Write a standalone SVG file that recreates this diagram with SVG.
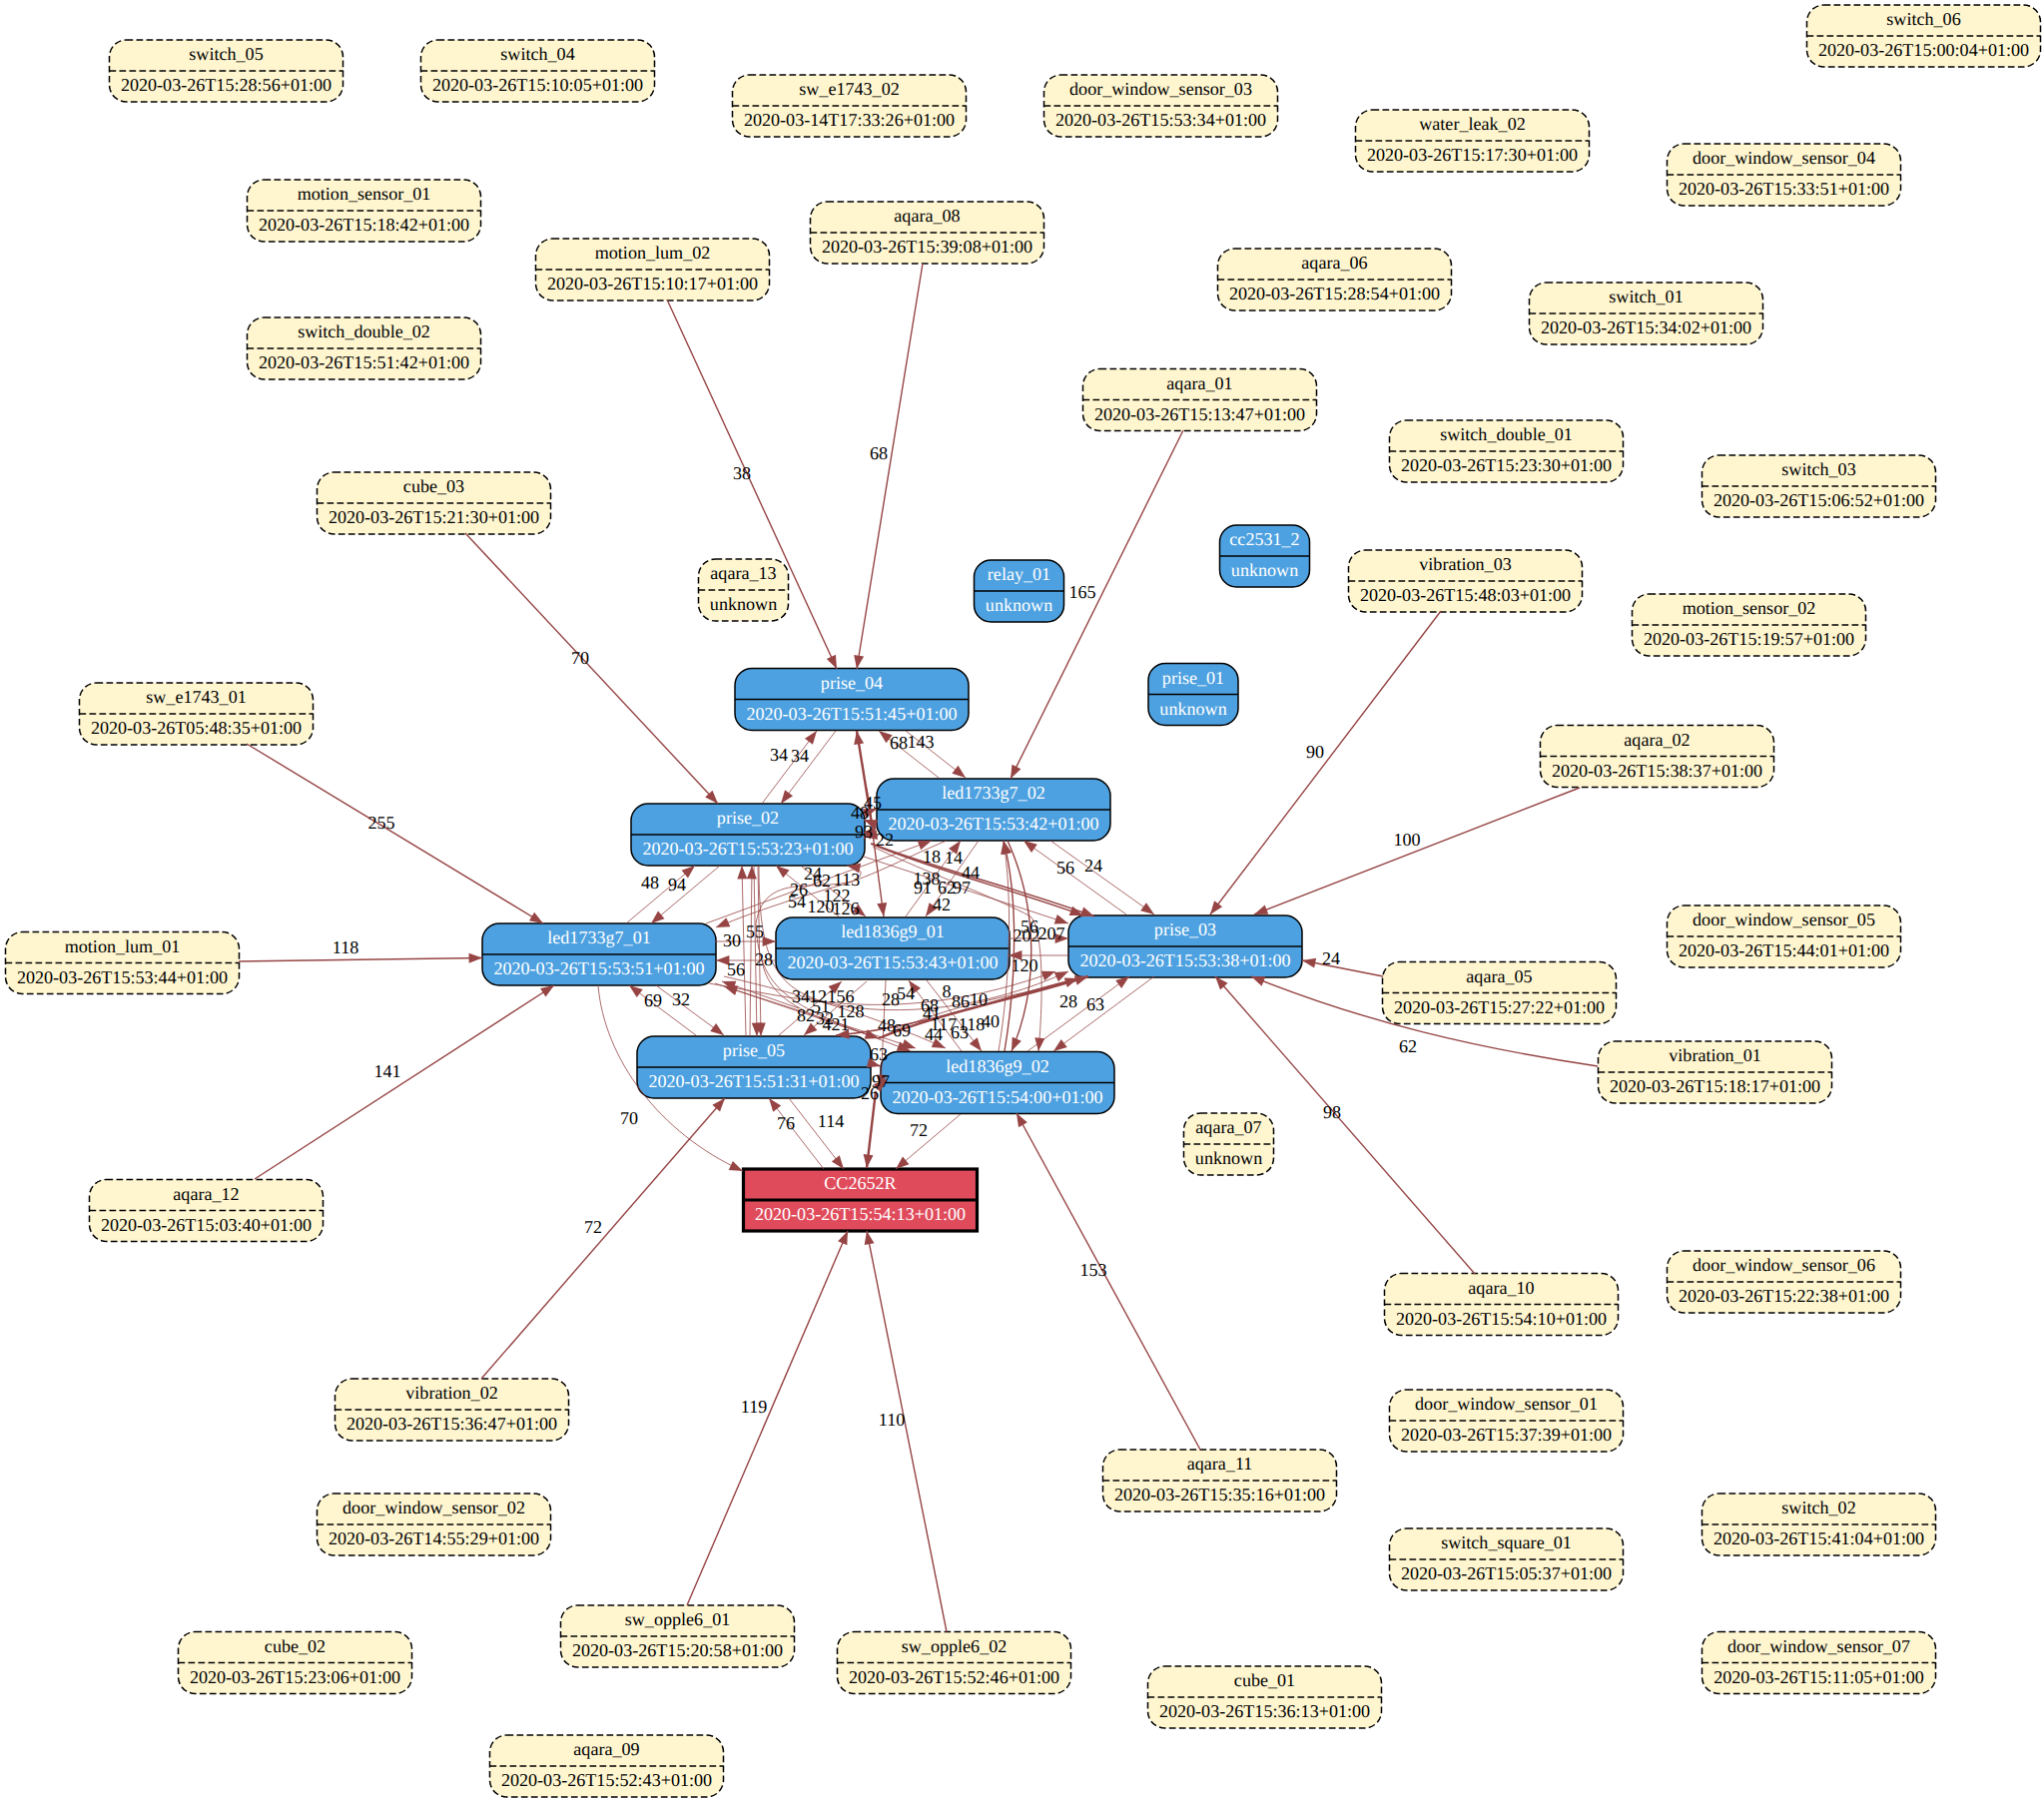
<svg xmlns="http://www.w3.org/2000/svg" width="2047" height="1807" viewBox="0 0 2047 1807">
<style>
text{font-family:"Liberation Serif","Times New Roman",serif;font-size:18.1px;text-anchor:middle;fill:#000;text-rendering:geometricPrecision}
.n text{transform:translateY(-1px)}
.n rect{stroke:#000;stroke-width:1.5;rx:17px;ry:17px}
.n line{stroke:#000;stroke-width:1.5}
.y rect{fill:#fff6d0;stroke-dasharray:6.7 3.3}
.y line{stroke-dasharray:6.7 3.3}
.b rect{fill:#4ea1e0}
.b text,.c text{fill:#fff}
.c rect{fill:#e04b5c;stroke-width:3.2;rx:0;ry:0}
.c line{stroke-width:3.2}
#edges path{fill:none;stroke:#964444;marker-end:url(#a)}
.t{stroke-width:.8}
.m{stroke-width:1.4}
.k{stroke-width:2.4}
</style>
<defs>
<marker id="a" markerUnits="userSpaceOnUse" markerWidth="16" markerHeight="12" viewBox="0 -6 14 12" refX="13.4" refY="0" orient="auto"><path d="M0,-5 L13.4,0 L0,5z" fill="#964444"/></marker>
</defs>
<rect width="2047" height="1807" fill="#fff"/>
<g id="nodes" transform="translate(.5,0)">
<g id="switch_05" class="n y" transform="translate(226,40)"><rect x="-117" width="234" height="62"/><line x1="-117" x2="117" y1="31" y2="31"/><text y="21">switch_05</text><text y="52">2020-03-26T15:28:56+01:00</text></g>
<g id="switch_04" class="n y" transform="translate(538,40)"><rect x="-117" width="234" height="62"/><line x1="-117" x2="117" y1="31" y2="31"/><text y="21">switch_04</text><text y="52">2020-03-26T15:10:05+01:00</text></g>
<g id="sw_e1743_02" class="n y" transform="translate(850,75)"><rect x="-117" width="234" height="62"/><line x1="-117" x2="117" y1="31" y2="31"/><text y="21">sw_e1743_02</text><text y="52">2020-03-14T17:33:26+01:00</text></g>
<g id="door_window_sensor_03" class="n y" transform="translate(1162,75)"><rect x="-117" width="234" height="62"/><line x1="-117" x2="117" y1="31" y2="31"/><text y="21">door_window_sensor_03</text><text y="52">2020-03-26T15:53:34+01:00</text></g>
<g id="water_leak_02" class="n y" transform="translate(1474,110)"><rect x="-117" width="234" height="62"/><line x1="-117" x2="117" y1="31" y2="31"/><text y="21">water_leak_02</text><text y="52">2020-03-26T15:17:30+01:00</text></g>
<g id="switch_06" class="n y" transform="translate(1926,5)"><rect x="-117" width="234" height="62"/><line x1="-117" x2="117" y1="31" y2="31"/><text y="21">switch_06</text><text y="52">2020-03-26T15:00:04+01:00</text></g>
<g id="door_window_sensor_04" class="n y" transform="translate(1786,144)"><rect x="-117" width="234" height="62"/><line x1="-117" x2="117" y1="31" y2="31"/><text y="21">door_window_sensor_04</text><text y="52">2020-03-26T15:33:51+01:00</text></g>
<g id="motion_sensor_01" class="n y" transform="translate(364,180)"><rect x="-117" width="234" height="62"/><line x1="-117" x2="117" y1="31" y2="31"/><text y="21">motion_sensor_01</text><text y="52">2020-03-26T15:18:42+01:00</text></g>
<g id="aqara_08" class="n y" transform="translate(928,202)"><rect x="-117" width="234" height="62"/><line x1="-117" x2="117" y1="31" y2="31"/><text y="21">aqara_08</text><text y="52">2020-03-26T15:39:08+01:00</text></g>
<g id="motion_lum_02" class="n y" transform="translate(653,239)"><rect x="-117" width="234" height="62"/><line x1="-117" x2="117" y1="31" y2="31"/><text y="21">motion_lum_02</text><text y="52">2020-03-26T15:10:17+01:00</text></g>
<g id="aqara_06" class="n y" transform="translate(1336,249)"><rect x="-117" width="234" height="62"/><line x1="-117" x2="117" y1="31" y2="31"/><text y="21">aqara_06</text><text y="52">2020-03-26T15:28:54+01:00</text></g>
<g id="switch_01" class="n y" transform="translate(1648,283)"><rect x="-117" width="234" height="62"/><line x1="-117" x2="117" y1="31" y2="31"/><text y="21">switch_01</text><text y="52">2020-03-26T15:34:02+01:00</text></g>
<g id="switch_double_02" class="n y" transform="translate(364,318)"><rect x="-117" width="234" height="62"/><line x1="-117" x2="117" y1="31" y2="31"/><text y="21">switch_double_02</text><text y="52">2020-03-26T15:51:42+01:00</text></g>
<g id="aqara_01" class="n y" transform="translate(1201,369.500)"><rect x="-117" width="234" height="62"/><line x1="-117" x2="117" y1="31" y2="31"/><text y="21">aqara_01</text><text y="52">2020-03-26T15:13:47+01:00</text></g>
<g id="switch_double_01" class="n y" transform="translate(1508,421)"><rect x="-117" width="234" height="62"/><line x1="-117" x2="117" y1="31" y2="31"/><text y="21">switch_double_01</text><text y="52">2020-03-26T15:23:30+01:00</text></g>
<g id="switch_03" class="n y" transform="translate(1821,456)"><rect x="-117" width="234" height="62"/><line x1="-117" x2="117" y1="31" y2="31"/><text y="21">switch_03</text><text y="52">2020-03-26T15:06:52+01:00</text></g>
<g id="cube_03" class="n y" transform="translate(434,473)"><rect x="-117" width="234" height="62"/><line x1="-117" x2="117" y1="31" y2="31"/><text y="21">cube_03</text><text y="52">2020-03-26T15:21:30+01:00</text></g>
<g id="vibration_03" class="n y" transform="translate(1467,551)"><rect x="-117" width="234" height="62"/><line x1="-117" x2="117" y1="31" y2="31"/><text y="21">vibration_03</text><text y="52">2020-03-26T15:48:03+01:00</text></g>
<g id="motion_sensor_02" class="n y" transform="translate(1751,595)"><rect x="-117" width="234" height="62"/><line x1="-117" x2="117" y1="31" y2="31"/><text y="21">motion_sensor_02</text><text y="52">2020-03-26T15:19:57+01:00</text></g>
<g id="sw_e1743_01" class="n y" transform="translate(196,684)"><rect x="-117" width="234" height="62"/><line x1="-117" x2="117" y1="31" y2="31"/><text y="21">sw_e1743_01</text><text y="52">2020-03-26T05:48:35+01:00</text></g>
<g id="aqara_02" class="n y" transform="translate(1659,726.500)"><rect x="-117" width="234" height="62"/><line x1="-117" x2="117" y1="31" y2="31"/><text y="21">aqara_02</text><text y="52">2020-03-26T15:38:37+01:00</text></g>
<g id="door_window_sensor_05" class="n y" transform="translate(1786,907)"><rect x="-117" width="234" height="62"/><line x1="-117" x2="117" y1="31" y2="31"/><text y="21">door_window_sensor_05</text><text y="52">2020-03-26T15:44:01+01:00</text></g>
<g id="motion_lum_01" class="n y" transform="translate(122,933.500)"><rect x="-117" width="234" height="62"/><line x1="-117" x2="117" y1="31" y2="31"/><text y="21">motion_lum_01</text><text y="52">2020-03-26T15:53:44+01:00</text></g>
<g id="aqara_05" class="n y" transform="translate(1501,963.500)"><rect x="-117" width="234" height="62"/><line x1="-117" x2="117" y1="31" y2="31"/><text y="21">aqara_05</text><text y="52">2020-03-26T15:27:22+01:00</text></g>
<g id="vibration_01" class="n y" transform="translate(1717,1043)"><rect x="-117" width="234" height="62"/><line x1="-117" x2="117" y1="31" y2="31"/><text y="21">vibration_01</text><text y="52">2020-03-26T15:18:17+01:00</text></g>
<g id="aqara_12" class="n y" transform="translate(206,1181.500)"><rect x="-117" width="234" height="62"/><line x1="-117" x2="117" y1="31" y2="31"/><text y="21">aqara_12</text><text y="52">2020-03-26T15:03:40+01:00</text></g>
<g id="aqara_10" class="n y" transform="translate(1503,1275.500)"><rect x="-117" width="234" height="62"/><line x1="-117" x2="117" y1="31" y2="31"/><text y="21">aqara_10</text><text y="52">2020-03-26T15:54:10+01:00</text></g>
<g id="door_window_sensor_06" class="n y" transform="translate(1786,1253)"><rect x="-117" width="234" height="62"/><line x1="-117" x2="117" y1="31" y2="31"/><text y="21">door_window_sensor_06</text><text y="52">2020-03-26T15:22:38+01:00</text></g>
<g id="vibration_02" class="n y" transform="translate(452,1381)"><rect x="-117" width="234" height="62"/><line x1="-117" x2="117" y1="31" y2="31"/><text y="21">vibration_02</text><text y="52">2020-03-26T15:36:47+01:00</text></g>
<g id="door_window_sensor_01" class="n y" transform="translate(1508,1392)"><rect x="-117" width="234" height="62"/><line x1="-117" x2="117" y1="31" y2="31"/><text y="21">door_window_sensor_01</text><text y="52">2020-03-26T15:37:39+01:00</text></g>
<g id="aqara_11" class="n y" transform="translate(1221,1452)"><rect x="-117" width="234" height="62"/><line x1="-117" x2="117" y1="31" y2="31"/><text y="21">aqara_11</text><text y="52">2020-03-26T15:35:16+01:00</text></g>
<g id="door_window_sensor_02" class="n y" transform="translate(434,1496)"><rect x="-117" width="234" height="62"/><line x1="-117" x2="117" y1="31" y2="31"/><text y="21">door_window_sensor_02</text><text y="52">2020-03-26T14:55:29+01:00</text></g>
<g id="switch_02" class="n y" transform="translate(1821,1496)"><rect x="-117" width="234" height="62"/><line x1="-117" x2="117" y1="31" y2="31"/><text y="21">switch_02</text><text y="52">2020-03-26T15:41:04+01:00</text></g>
<g id="switch_square_01" class="n y" transform="translate(1508,1531)"><rect x="-117" width="234" height="62"/><line x1="-117" x2="117" y1="31" y2="31"/><text y="21">switch_square_01</text><text y="52">2020-03-26T15:05:37+01:00</text></g>
<g id="sw_opple6_01" class="n y" transform="translate(678,1608)"><rect x="-117" width="234" height="62"/><line x1="-117" x2="117" y1="31" y2="31"/><text y="21">sw_opple6_01</text><text y="52">2020-03-26T15:20:58+01:00</text></g>
<g id="cube_02" class="n y" transform="translate(295,1634.500)"><rect x="-117" width="234" height="62"/><line x1="-117" x2="117" y1="31" y2="31"/><text y="21">cube_02</text><text y="52">2020-03-26T15:23:06+01:00</text></g>
<g id="sw_opple6_02" class="n y" transform="translate(955,1634.500)"><rect x="-117" width="234" height="62"/><line x1="-117" x2="117" y1="31" y2="31"/><text y="21">sw_opple6_02</text><text y="52">2020-03-26T15:52:46+01:00</text></g>
<g id="door_window_sensor_07" class="n y" transform="translate(1821,1634.500)"><rect x="-117" width="234" height="62"/><line x1="-117" x2="117" y1="31" y2="31"/><text y="21">door_window_sensor_07</text><text y="52">2020-03-26T15:11:05+01:00</text></g>
<g id="cube_01" class="n y" transform="translate(1266,1669)"><rect x="-117" width="234" height="62"/><line x1="-117" x2="117" y1="31" y2="31"/><text y="21">cube_01</text><text y="52">2020-03-26T15:36:13+01:00</text></g>
<g id="aqara_09" class="n y" transform="translate(607,1738)"><rect x="-117" width="234" height="62"/><line x1="-117" x2="117" y1="31" y2="31"/><text y="21">aqara_09</text><text y="52">2020-03-26T15:52:43+01:00</text></g>
<g id="aqara_13" class="n y" transform="translate(744,560)"><rect x="-45" width="90" height="62"/><line x1="-45" x2="45" y1="31" y2="31"/><text y="21">aqara_13</text><text y="52">unknown</text></g>
<g id="aqara_07" class="n y" transform="translate(1230,1115)"><rect x="-45" width="90" height="62"/><line x1="-45" x2="45" y1="31" y2="31"/><text y="21">aqara_07</text><text y="52">unknown</text></g>
<g id="relay_01" class="n b" transform="translate(1020,561)"><rect x="-45" width="90" height="62"/><line x1="-45" x2="45" y1="31" y2="31"/><text y="21">relay_01</text><text y="52">unknown</text></g>
<g id="cc2531_2" class="n b" transform="translate(1266,526)"><rect x="-45" width="90" height="62"/><line x1="-45" x2="45" y1="31" y2="31"/><text y="21">cc2531_2</text><text y="52">unknown</text></g>
<g id="prise_01" class="n b" transform="translate(1194.500,664.500)"><rect x="-45" width="90" height="62"/><line x1="-45" x2="45" y1="31" y2="31"/><text y="21">prise_01</text><text y="52">unknown</text></g>
<g id="prise_04" class="n b" transform="translate(852.500,669.500)"><rect x="-117" width="234" height="62"/><line x1="-117" x2="117" y1="31" y2="31"/><text y="21">prise_04</text><text y="52">2020-03-26T15:51:45+01:00</text></g>
<g id="prise_02" class="n b" transform="translate(748.500,805)"><rect x="-117" width="234" height="62"/><line x1="-117" x2="117" y1="31" y2="31"/><text y="21">prise_02</text><text y="52">2020-03-26T15:53:23+01:00</text></g>
<g id="led1733g7_02" class="n b" transform="translate(994.500,780)"><rect x="-117" width="234" height="62"/><line x1="-117" x2="117" y1="31" y2="31"/><text y="21">led1733g7_02</text><text y="52">2020-03-26T15:53:42+01:00</text></g>
<g id="led1836g9_01" class="n b" transform="translate(893.500,919)"><rect x="-117" width="234" height="62"/><line x1="-117" x2="117" y1="31" y2="31"/><text y="21">led1836g9_01</text><text y="52">2020-03-26T15:53:43+01:00</text></g>
<g id="led1733g7_01" class="n b" transform="translate(599.500,925)"><rect x="-117" width="234" height="62"/><line x1="-117" x2="117" y1="31" y2="31"/><text y="21">led1733g7_01</text><text y="52">2020-03-26T15:53:51+01:00</text></g>
<g id="prise_03" class="n b" transform="translate(1186.500,917)"><rect x="-117" width="234" height="62"/><line x1="-117" x2="117" y1="31" y2="31"/><text y="21">prise_03</text><text y="52">2020-03-26T15:53:38+01:00</text></g>
<g id="prise_05" class="n b" transform="translate(754.500,1038)"><rect x="-117" width="234" height="62"/><line x1="-117" x2="117" y1="31" y2="31"/><text y="21">prise_05</text><text y="52">2020-03-26T15:51:31+01:00</text></g>
<g id="led1836g9_02" class="n b" transform="translate(998.500,1053.500)"><rect x="-117" width="234" height="62"/><line x1="-117" x2="117" y1="31" y2="31"/><text y="21">led1836g9_02</text><text y="52">2020-03-26T15:54:00+01:00</text></g>
<g id="CC2652R" class="n c" transform="translate(861,1171)"><rect x="-117" width="234" height="62"/><line x1="-117" x2="117" y1="31" y2="31"/><text y="21">CC2652R</text><text y="52">2020-03-26T15:54:13+01:00</text></g>
</g>
<g id="edges">
<path class="m" d="M668,300L838,670"/>
<path class="m" d="M924,264L858,670"/>
<path class="m" d="M1185,431L1012,780"/>
<path class="m" d="M466,534L719,805"/>
<path class="m" d="M247,745L544,925"/>
<path class="m" d="M239,963L483,959.500"/>
<path class="m" d="M255,1181L555,987"/>
<path class="m" d="M1443,612L1212,916"/>
<path class="m" d="M1582,789L1256,916"/>
<path class="m" d="M1385,978L1304,962"/>
<path class="m" d="M1600,1068C1480,1050 1370,1025 1253,978"/>
<path class="m" d="M1477,1276L1217,978"/>
<path class="m" d="M1202,1452L1018,1115"/>
<path class="m" d="M482,1381L726,1100"/>
<path class="m" d="M688,1608L849,1233"/>
<path class="m" d="M948,1634.500L868,1233"/>
<path class="t" d="M763,805L818,732"/>
<path class="t" d="M837,732L782,805"/>
<path class="t" d="M940,779L880,732"/>
<path class="t" d="M907,732L967,779"/>
<path class="t" d="M627,925L696,867"/>
<path class="t" d="M721,867L652,925"/>
<path class="t" d="M697,1037L630,987"/>
<path class="t" d="M657,987L725,1037"/>
<path class="t" d="M1128,916L1025,842"/>
<path class="t" d="M1052,842L1156,916"/>
<path class="t" d="M1029,1053L1131,978"/>
<path class="t" d="M1156,978L1055,1053"/>
<path class="t" d="M825,1171L770,1100"/>
<path class="t" d="M790,1100L845,1171"/>
<path class="t" d="M962,1116L897,1171"/>
<path class="t" d="M599,987C605,1060 660,1135 744,1173"/>
<path class="k" d="M873,825L858,732"/>
<path class="m" d="M868,790L885,918"/>
<path class="k" d="M877,1093L868,1170"/>
<path class="t" d="M887,982L882,1090"/>
<path class="m" d="M865,815L878,810"/>
<path class="m" d="M878,826L865,821"/>
<path class="m" d="M865,840L878,828"/>
<path class="m" d="M878,836L865,838"/>
<path class="m" d="M871,1065L882,1068"/>
<path class="m" d="M878,1090L888,1081"/>
<path class="t" d="M716,943L777,943"/>
<path class="t" d="M777,962L717,962"/>
<path class="t" d="M747,1038L743,867"/>
<path class="t" d="M751,1038L753,867"/>
<path class="t" d="M755,867L758,1038"/>
<path class="t" d="M759,867L762,1038"/>
<path class="t" d="M840,918L777,867"/>
<path class="t" d="M803,868L867,918"/>
<path class="t" d="M757,925C762,895 780,888 810,887C840,886 860,885 862,875C863,872 858,869 848,867"/>
<path class="t" d="M707,925L933,842"/>
<path class="t" d="M948,842C900,862 870,880 830,890C790,902 750,915 717,929"/>
<path class="t" d="M907,918L962,842"/>
<path class="t" d="M980,842L927,918"/>
<path class="t" d="M1010,940L1070,940"/>
<path class="t" d="M1070,957L1010,957"/>
<path class="m" d="M1006,1053C1018,980 1020,900 1005,842"/>
<path class="t" d="M1000,1053C1012,980 1014,900 1005,842"/>
<path class="m" d="M1009,842C1040,910 1040,990 1013,1053"/>
<path class="t" d="M963,1053L910,982"/>
<path class="t" d="M928,982L983,1053"/>
<path class="t" d="M780,1037L843,983"/>
<path class="t" d="M868,983L805,1037"/>
<path class="m" d="M872,845C930,870 1020,893 1085,917"/>
<path class="m" d="M873,845C930,868 1030,893 1096,918"/>
<path class="t" d="M865,858L1070,925"/>
<path class="t" d="M874,848C930,875 1000,900 1032,918C1045,930 1045,1000 1040,1053"/>
<path class="t" d="M760,867C760,960 775,990 830,1005C900,1020 990,1010 1070,973"/>
<path class="t" d="M710,985C800,1000 900,1030 1057,973"/>
<path class="k" d="M880,1040C940,1015 1020,1000 1090,978"/>
<path class="m" d="M1080,980C1000,1000 920,1030 837,1037"/>
<path class="t" d="M880,1040C960,1000 1020,1000 1080,980"/>
<path class="t" d="M800,1010L723,983"/>
<path class="t" d="M880,1040L725,988"/>
<path class="t" d="M716,985L917,1050"/>
<path class="t" d="M725,978C820,1000 880,1020 947,1050"/>
<path class="t" d="M763,962C770,1000 800,1015 880,1040"/>
<path class="t" d="M757,925C760,1000 800,1010 912,1053"/>
</g>
<g id="edge-labels">
<text x="743" y="480">38</text><text x="880" y="460">68</text><text x="1084" y="599">165</text><text x="581" y="665">70</text><text x="382" y="830">255</text><text x="346" y="955">118</text><text x="388" y="1079">141</text><text x="1317" y="759">90</text><text x="1409" y="847">100</text><text x="1333" y="966">24</text><text x="1410" y="1054">62</text><text x="1334" y="1120">98</text><text x="1095" y="1278">153</text><text x="594" y="1235">72</text><text x="755" y="1415">119</text><text x="893" y="1428">110</text>
<text x="780" y="762">34</text><text x="801" y="763">34</text><text x="900" y="750">68</text><text x="922" y="749">143</text><text x="874" y="810">45</text><text x="861" y="820">48</text><text x="865" y="839">93</text><text x="886" y="847">22</text><text x="933" y="864">18</text><text x="955" y="865">14</text><text x="1067" y="875">56</text><text x="1095" y="873">24</text><text x="972" y="880">44</text><text x="814" y="881">24</text><text x="823" y="888">62</text><text x="848" y="887">113</text><text x="928" y="886">138</text><text x="924" y="895">91</text><text x="948" y="895">62</text><text x="963" y="895">97</text><text x="800" y="897">26</text><text x="838" y="903">122</text><text x="798" y="909">54</text><text x="822" y="914">120</text><text x="847" y="916">126</text><text x="943" y="912">42</text><text x="651" y="890">48</text><text x="678" y="892">94</text><text x="1031" y="934">56</text><text x="1028" y="943">202</text><text x="1053" y="941">207</text><text x="756" y="939">55</text><text x="733" y="948">30</text><text x="765" y="967">28</text><text x="1026" y="973">120</text><text x="737" y="977">56</text>
<text x="654" y="1008">69</text><text x="682" y="1007">32</text><text x="802" y="1004">34</text><text x="819" y="1004">12</text><text x="842" y="1004">156</text><text x="822" y="1014">51</text><text x="807" y="1023">82</text><text x="826" y="1026">32</text><text x="837" y="1032">421</text><text x="852" y="1019">128</text><text x="892" y="1007">28</text><text x="907" y="1001">54</text><text x="888" y="1033">48</text><text x="903" y="1038">69</text><text x="880" y="1062">63</text><text x="948" y="999">8</text><text x="962" y="1009">86</text><text x="980" y="1007">10</text><text x="931" y="1013">68</text><text x="933" y="1021">41</text><text x="945" y="1032">117</text><text x="973" y="1032">118</text><text x="992" y="1029">40</text><text x="935" y="1042">44</text><text x="961" y="1040">63</text><text x="1070" y="1009">28</text><text x="1097" y="1012">63</text><text x="882" y="1089">97</text><text x="871" y="1101">26</text><text x="787" y="1131">76</text><text x="832" y="1129">114</text><text x="920" y="1138">72</text><text x="630" y="1126">70</text>
</g>
</svg>
